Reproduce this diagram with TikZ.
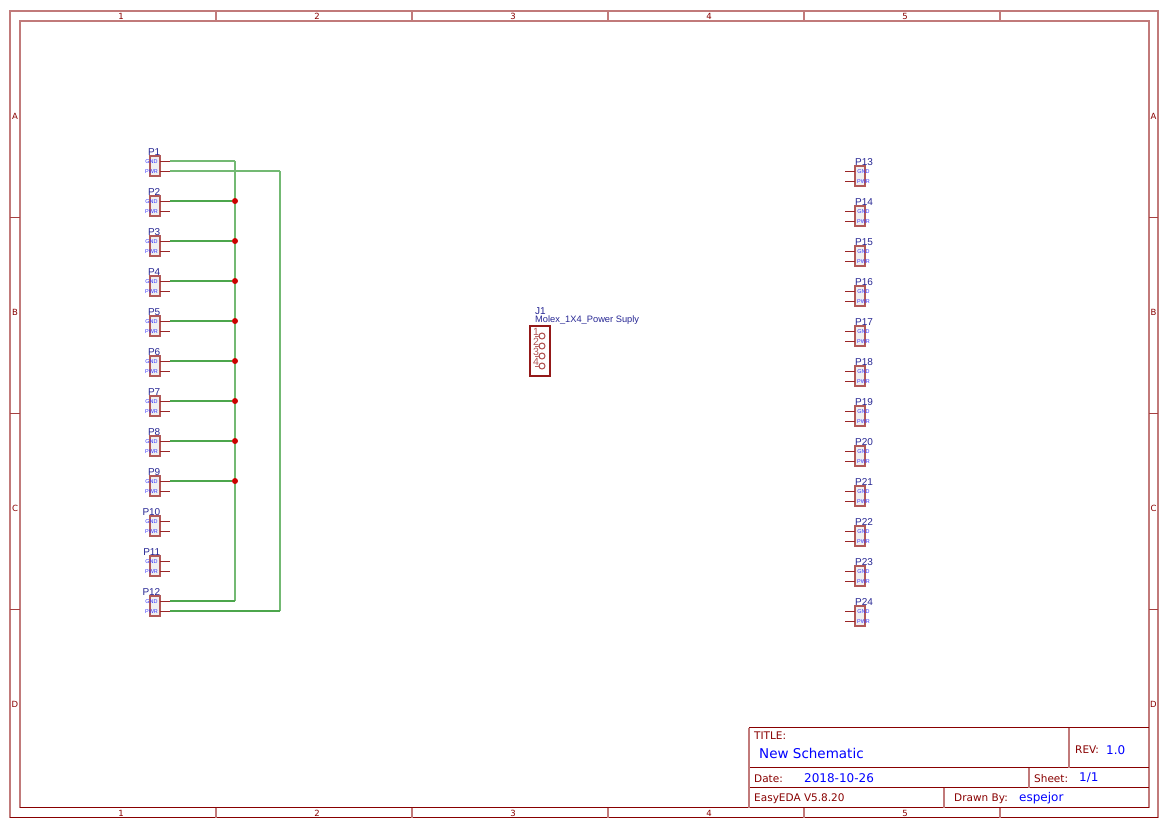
\documentclass[tikz,border=0pt]{standalone}
\usepackage{fontspec}
\setmainfont{Liberation Sans}
\newfontfamily\sheetfont{DejaVu Sans}
\usetikzlibrary{positioning}
\definecolor{sheetred}{HTML}{880000}
\definecolor{partblue}{HTML}{000080}
\definecolor{pinblue}{HTML}{0000FF}
\definecolor{wiregreen}{HTML}{008000}
\definecolor{partgrey}{HTML}{F0F0F0}

\begin{document}
\begin{tikzpicture}[x=1pt, y=-1pt]
    \tikzstyle{frame} = [draw=sheetred!52, line width=1.7pt]
    \tikzstyle{rule} = [draw=sheetred, line width=1pt]
    \tikzstyle{edge} = [font=\sheetfont\fontsize{8.5}{9}\selectfont, text=sheetred, inner sep=0pt]
    \tikzstyle{sheetlabel} = [font=\sheetfont\fontsize{10.5}{11}\selectfont, text=sheetred, inner sep=0pt, anchor=west]
    \tikzstyle{sheetvalue} = [font=\sheetfont\fontsize{12}{13}\selectfont, text=pinblue, inner sep=0pt, anchor=west]
    \tikzstyle{header} = [rectangle, draw=sheetred!65, fill=partgrey, line width=1.4pt, minimum width=10pt, minimum height=20pt, inner sep=0pt]
    \tikzstyle{pin} = [draw=sheetred!85, line width=1pt]
    \tikzstyle{refdes} = [font=\fontsize{10}{10}\selectfont, text=partblue!85, inner sep=0pt]
    \tikzstyle{pinname} = [font=\fontsize{5.5}{6}\selectfont, text=pinblue!80, inner sep=0pt]
    \tikzstyle{wire} = [draw=wiregreen!70, line width=1.2pt]
    \tikzstyle{softwire} = [draw=wiregreen!55, line width=1.7pt]
    \tikzstyle{junction} = [circle, fill=red!80!black, minimum size=6pt, inner sep=0pt]
    \tikzstyle{hole} = [circle, draw=sheetred!70, line width=1pt, minimum size=6pt, inner sep=0pt]
    \tikzstyle{pinnum} = [font=\fontsize{10.5}{10}\selectfont, text=sheetred!65, inner sep=0pt]

    \useasboundingbox (0,0) rectangle (1169,828);

    % sheet border
    \draw [frame] (10,817.5) -- (10,11) -- (1158,11) -- (1158,817.5);
    \draw [frame] (20,807.5) -- (20,21) -- (1149,21) -- (1149,807.5);
    \draw [rule] (10,817.5) -- (1158,817.5);
    \draw [rule] (20,807.5) -- (1149,807.5);
    \foreach \x in {216,412,608,804,1000} {
        \draw [frame] (\x,11) -- (\x,21);
        \draw [frame] (\x,807.5) -- (\x,817.5);
    }
    \foreach \y in {217,413,609} {
        \draw [rule, draw=sheetred!75] (10,\y) -- (20,\y);
        \draw [rule, draw=sheetred!75] (1149,\y) -- (1158,\y);
    }
    \foreach \n [evaluate=\n as \x using int(121+196*(\n-1))] in {1,...,5} {
        \node (top\n) [edge] at (\x,16) {\n};
        \node (bot\n) [edge] at (\x,813) {\n};
    }
    \foreach \s/\y in {A/116,B/312,C/508,D/704} {
        \node (left\s) [edge] at (15,\y) {\s};
        \node (right\s) [edge] at (1153.5,\y) {\s};
    }

    % title block
    \draw [rule] (749,727.7) -- (1149,727.7);
    \draw [rule] (749,767.5) -- (1149,767.5);
    \draw [rule] (749,787.5) -- (1149,787.5);
    \draw [frame] (749,727.7) -- (749,807.5);
    \draw [frame] (1069,727.7) -- (1069,767.5);
    \draw [frame] (1029,767.5) -- (1029,787.5);
    \draw [frame] (944,787.5) -- (944,807.5);
    \node (title) [sheetlabel] at (754,735.5) {TITLE:};
    \node (name) [sheetvalue, font=\sheetfont\fontsize{13.5}{14}\selectfont] at (759,753) {New Schematic};
    \node (rev) [sheetlabel] at (1075,750) {REV:};
    \node (revval) [sheetvalue] at (1106,750) {1.0};
    \node (date) [sheetlabel] at (754,778.5) {Date:};
    \node (dateval) [sheetvalue] at (804,778) {2018-10-26};
    \node (sheet) [sheetlabel] at (1034,778.5) {Sheet:};
    \node (sheetval) [sheetvalue] at (1079,778) {1/1};
    \node (tool) [sheetlabel] at (754,798.5) {EasyEDA V5.8.20};
    \node (drawn) [sheetlabel] at (954,798.5) {Drawn By:};
    \node (author) [sheetvalue] at (1019,798) {espejor};

    % left headers
    \foreach \n in {1,...,12} {
        \pgfmathsetmacro{\yy}{166+40*(\n-1)}
        \node (P\n) [header] at (155,\yy) {};
        \node (P\n ref) [refdes, anchor=south east] at (160.5,\yy-10) {P\n};
        \node (P\n gnd) [pinname] at (151.5,\yy-4.5) {GND};
        \node (P\n pwr) [pinname] at (151.5,\yy+5.5) {PWR};
        \coordinate (P\n a) at (170,\yy-5);
        \coordinate (P\n b) at (170,\yy+5);
        \draw [pin] (160,\yy-5) -- (P\n a);
        \draw [pin] (160,\yy+5) -- (P\n b);
    }

    % right headers
    \foreach \n in {13,...,24} {
        \pgfmathsetmacro{\yy}{176+40*(\n-13)}
        \node (P\n) [header] at (860,\yy) {};
        \node (P\n ref) [refdes, anchor=south west] at (855,\yy-10) {P\n};
        \node (P\n gnd) [pinname] at (863.5,\yy-4.5) {GND};
        \node (P\n pwr) [pinname] at (863.5,\yy+5.5) {PWR};
        \draw [pin] (845,\yy-5) -- (855,\yy-5);
        \draw [pin] (845,\yy+5) -- (855,\yy+5);
    }

    % power connector
    \node (J1) [rectangle, draw=sheetred!90, line width=2pt, minimum width=20pt, minimum height=50pt, inner sep=0pt] at (540,351) {};
    \node (J1ref) [refdes, anchor=west] at (535,311.5) {J1};
    \node (J1val) [refdes, font=\fontsize{9.3}{10}\selectfont, anchor=west] at (535,320.5) {Molex\_1X4\_Power Suply};
    \foreach \n in {1,...,4} {
        \pgfmathsetmacro{\yy}{336+10*(\n-1)}
        \node (hole\n) [hole] at (542,\yy) {};
        \draw [pin, draw=sheetred!60] (535,\yy) -- (hole\n);
        \node (num\n) [pinnum] at (536,\yy-4) {\n};
    }

    % nets
    \coordinate (gndtop) at (235,161);
    \coordinate (gndbot) at (235,601);
    \coordinate (pwrtop) at (280,171);
    \coordinate (pwrbot) at (280,611);
    \draw [softwire] (P1a) -- (gndtop);
    \draw [softwire] (P1b) -- (pwrtop);
    \draw [softwire] (gndtop) -- (gndbot);
    \draw [softwire] (pwrtop) -- (pwrbot);
    \draw [wire] (gndbot) -- (P12a);
    \draw [wire] (pwrbot) -- (P12b);
    \foreach \n in {2,...,9} {
        \pgfmathsetmacro{\yy}{161+40*(\n-1)}
        \node (dot\n) [junction] at (235,\yy) {};
        \draw [wire] (P\n a) -- (dot\n);
    }
\end{tikzpicture}
\end{document}
